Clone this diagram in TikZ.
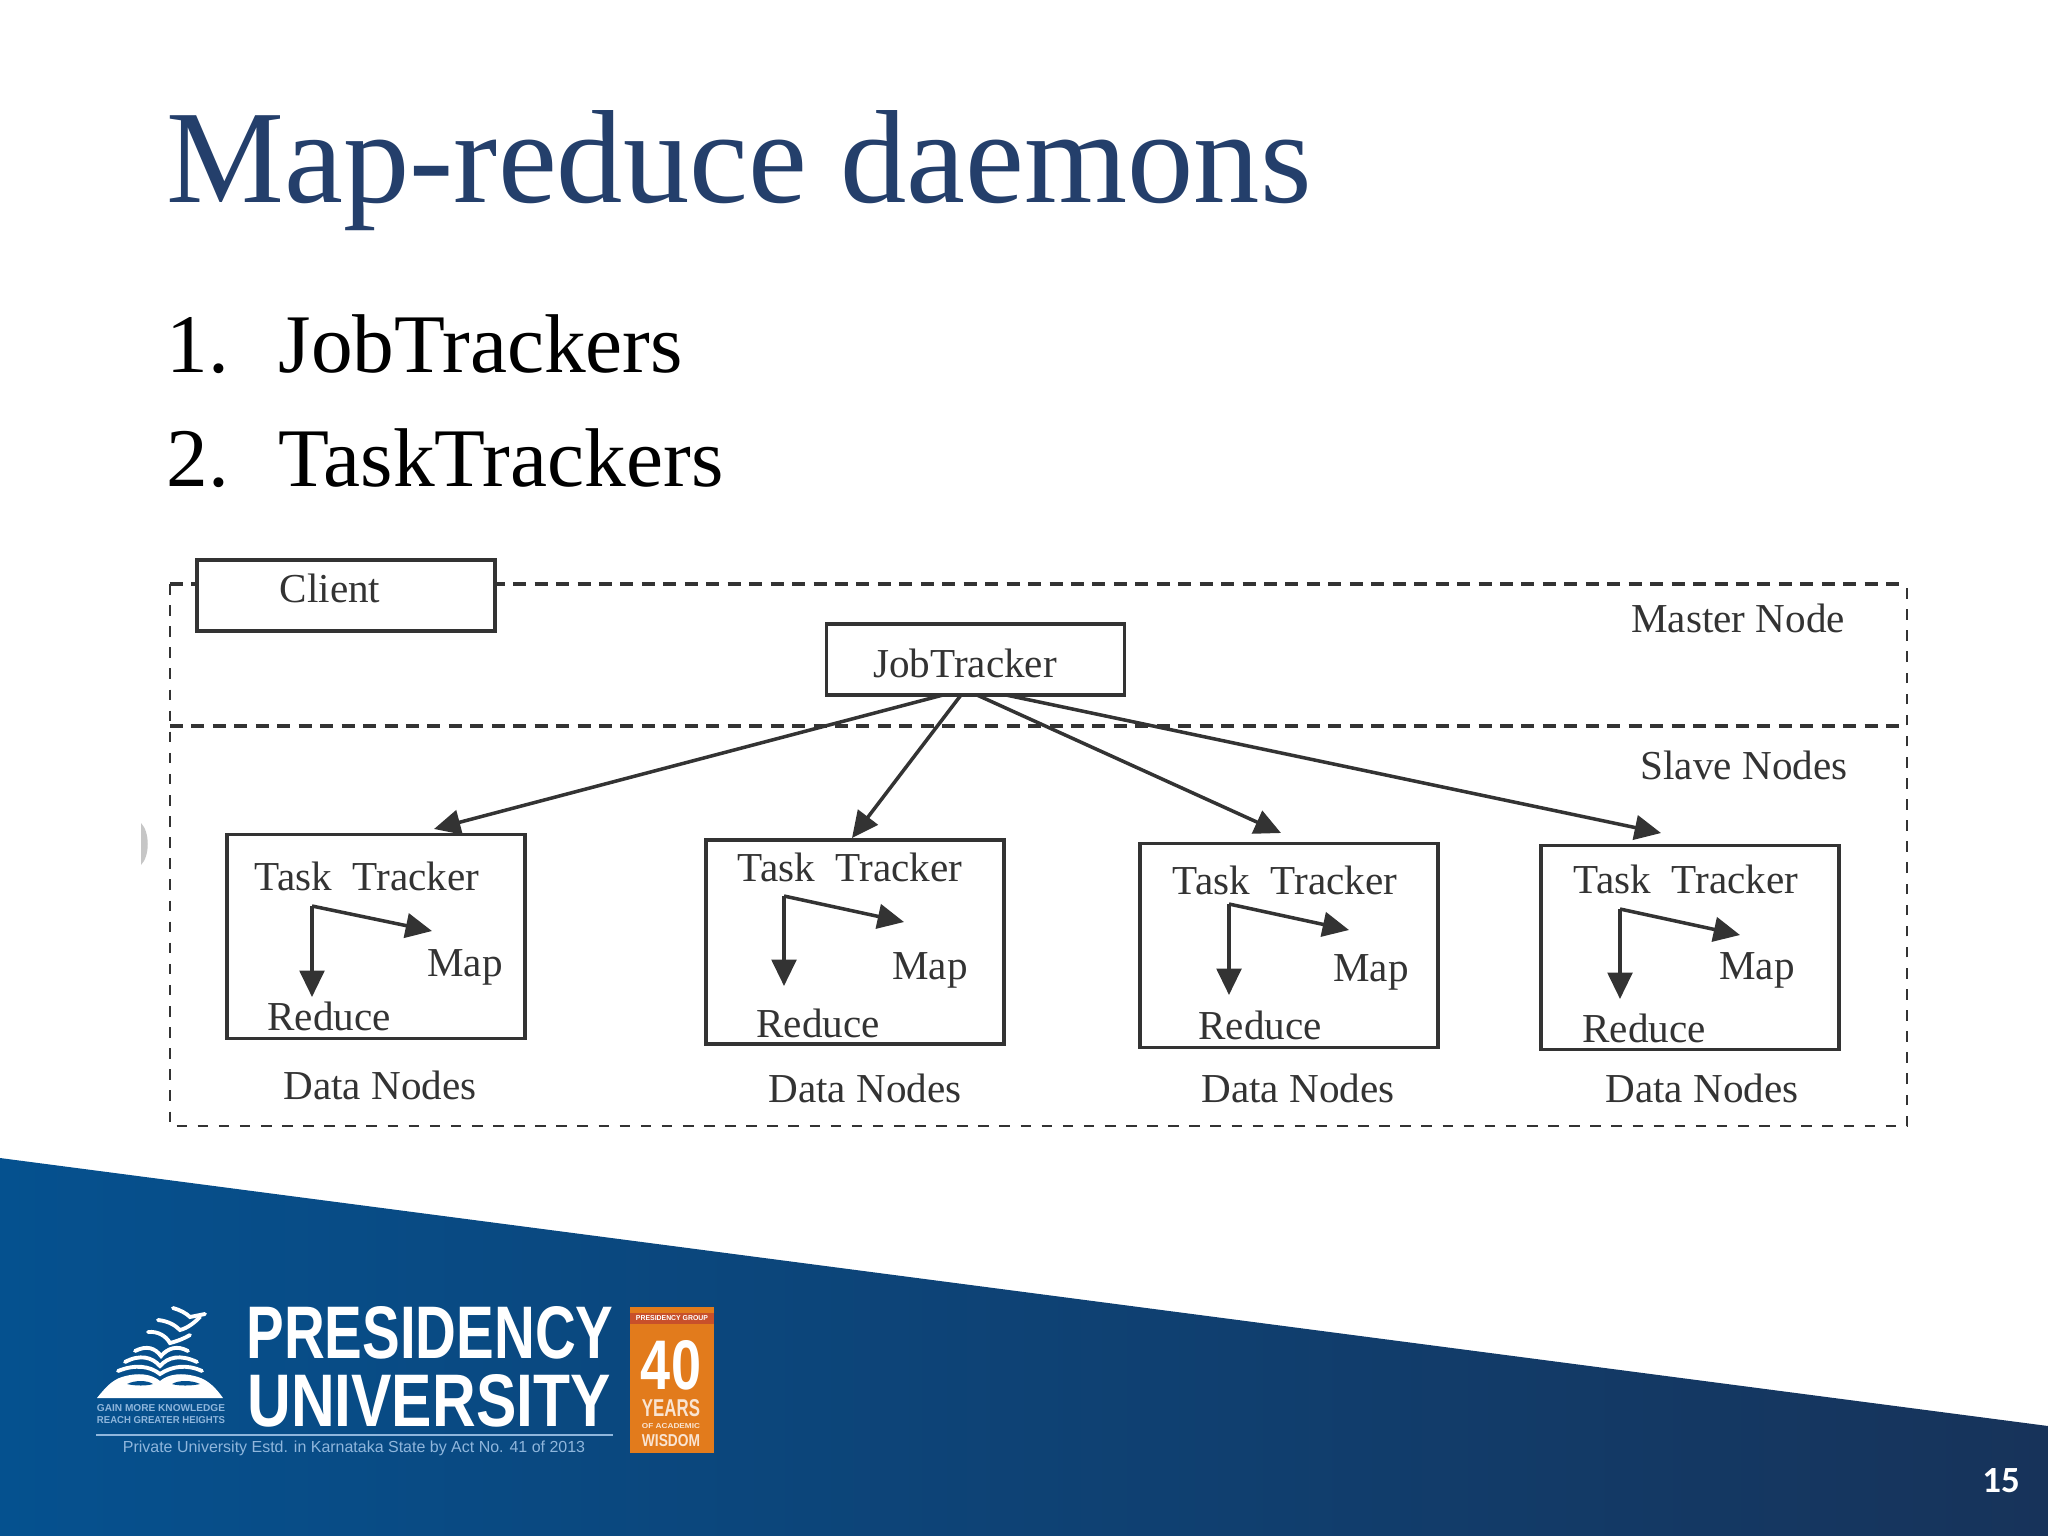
\documentclass[tikz,border=0pt]{standalone}
\usepackage{xcolor}
\usepackage{fontspec}
\usepackage{tikz}
\usetikzlibrary{arrows.meta}
\setmainfont{Liberation Serif}
\newfontfamily\logofont{Liberation Sans}
\newfontfamily\pagefont{Carlito}
\definecolor{TitleBlue}{HTML}{243F6B}
\definecolor{BandLeft}{HTML}{05518F}
\definecolor{BandRight}{HTML}{17335A}
\definecolor{LogoLine}{HTML}{8FB6DC}
\definecolor{LogoOrange}{HTML}{E27B1C}
\definecolor{TagRed}{HTML}{C8502A}
\definecolor{ScanInk}{HTML}{333333}
\tikzset{
    scanbox/.style={draw=ScanInk, line width=1pt, fill=white, minimum width=2.98cm, inner sep=0pt},
    scantext/.style={text=ScanInk, font=\fontsize{11.7}{14}\selectfont, inner sep=0pt},
    linkarrow/.style={-{Triangle[length=7.5pt, width=7pt]}, draw=ScanInk, line width=1pt},
    framethick/.style={draw=ScanInk, line width=1pt, dash pattern=on 3.7pt off 2.4pt},
    listtext/.style={anchor=base west, inner sep=0pt, font=\fontsize{23.7}{28}\selectfont},
    wingline/.style={draw=white, line width=1.1pt, line cap=round}
}
\begin{document}
\begin{tikzpicture}[x=0.01cm, y=-0.01cm]
        \useasboundingbox (0,0) rectangle (2048,1536);
        \fill [white] (0,0) rectangle (2048,1536);
        % heading and list
        \node (Title) at (166,202) [anchor=base west, inner sep=0pt, text=TitleBlue, font=\fontsize{37.7}{44}\selectfont] {Map-reduce daemons};
        \node (NumOne) at (166,372) [listtext] {1.};
        \node (ItemOne) at (278,372) [listtext] {JobTrackers};
        \node (NumTwo) at (166,486) [listtext] {2.};
        \node (ItemTwo) at (278,486) [listtext] {TaskTrackers};
        % sliver at the left of the scan
        \fill [gray!45] (141,823) .. controls (150,832) and (150,856) .. (141,865) -- cycle;
        % outer frame
        \coordinate (TopLeft) at (170,584);
        \coordinate (TopRight) at (1907,584);
        \coordinate (MidLeft) at (170,726);
        \coordinate (MidRight) at (1907,726);
        \coordinate (BottomLeft) at (170,1126);
        \coordinate (BottomRight) at (1907,1126);
        \draw [dashed, draw=ScanInk, line width=0.5pt] (TopLeft) -- (BottomLeft) -- (BottomRight) -- (TopRight);
        \draw [framethick] (TopLeft) -- (TopRight);
        \draw [framethick] (MidLeft) -- (MidRight);
        \node (MasterLabel) at (1738,618) [scantext] {Master Node};
        \node (SlaveLabel) at (1744,765) [scantext] {Slave Nodes};
        % master side
        \node (Client) at (346,595.5) [scanbox, minimum height=0.71cm] {};
        \node (ClientText) at (330,588) [scantext] {Client};
        \node (Job) at (975.5,659.5) [scanbox, minimum height=0.71cm] {};
        \node (JobText) at (965,663.5) [scantext] {JobTracker};
        % slave boxes
        \node (BoxA) at (376,936.5) [scanbox, minimum height=2.04cm] {};
        \node (BoxB) at (855,942) [scanbox, minimum height=2.04cm] {};
        \node (BoxC) at (1289,945.5) [scanbox, minimum height=2.04cm] {};
        \node (BoxD) at (1690,947.5) [scanbox, minimum height=2.04cm] {};
        \node (TrackerA) at (367,876) [scantext] {Task\ \ Tracker};
        \node (TrackerB) at (850,867) [scantext] {Task\ \ Tracker};
        \node (TrackerC) at (1285,880) [scantext] {Task\ \ Tracker};
        \node (TrackerD) at (1686,879) [scantext] {Task\ \ Tracker};
        \node (MapA) at (465,967) [scantext] {Map};
        \node (MapB) at (930,970) [scantext] {Map};
        \node (MapC) at (1371,972) [scantext] {Map};
        \node (MapD) at (1757,970) [scantext] {Map};
        \node (ReduceA) at (329,1016) [scantext] {Reduce};
        \node (ReduceB) at (818,1023) [scantext] {Reduce};
        \node (ReduceC) at (1260,1025) [scantext] {Reduce};
        \node (ReduceD) at (1644,1028) [scantext] {Reduce};
        \node (DataA) at (380,1085) [scantext] {Data Nodes};
        \node (DataB) at (865,1088) [scantext] {Data Nodes};
        \node (DataC) at (1298,1088) [scantext] {Data Nodes};
        \node (DataD) at (1702,1088) [scantext] {Data Nodes};
        % arrows out of the job tracker
        \coordinate (JobOutA) at (943,695);
        \coordinate (JobOutB) at (961,695);
        \coordinate (JobOutC) at (977,695);
        \coordinate (JobOutD) at (1006,695);
        \coordinate (InA) at (434,829);
        \coordinate (InB) at (852,838);
        \coordinate (InC) at (1281,833);
        \coordinate (InD) at (1661,833);
        \draw [linkarrow] (JobOutA) -- (InA);
        \draw [linkarrow] (JobOutB) -- (InB);
        \draw [linkarrow] (JobOutC) -- (InC);
        \draw [linkarrow] (JobOutD) -- (InD);
        % arrows inside the boxes
        \coordinate (CornerA) at (312,906);
        \coordinate (CornerB) at (784,896);
        \coordinate (CornerC) at (1229,904);
        \coordinate (CornerD) at (1620,909);
        \coordinate (DownA) at (312,997);
        \coordinate (DownB) at (784,986);
        \coordinate (DownC) at (1229,995);
        \coordinate (DownD) at (1620,999);
        \coordinate (SideA) at (432,931);
        \coordinate (SideB) at (904,922);
        \coordinate (SideC) at (1349,930);
        \coordinate (SideD) at (1740,935);
        \draw [linkarrow] (CornerA) -- (DownA);
        \draw [linkarrow] (CornerA) -- (SideA);
        \draw [linkarrow] (CornerB) -- (DownB);
        \draw [linkarrow] (CornerB) -- (SideB);
        \draw [linkarrow] (CornerC) -- (DownC);
        \draw [linkarrow] (CornerC) -- (SideC);
        \draw [linkarrow] (CornerD) -- (DownD);
        \draw [linkarrow] (CornerD) -- (SideD);
        % footer band
        \shade [left color=BandLeft, right color=BandRight] (0,1158) -- (2048,1426) -- (2048,1536) -- (0,1536) -- cycle;
        \node (PageNum) at (2001,1481) [text=white, inner sep=0pt, font=\pagefont\bfseries\fontsize{10.5}{12}\selectfont] {15};
        % book and birds
        \fill [white] (97,1398) .. controls (105,1388) and (112,1380) .. (122,1377) .. controls (138,1372) and (152,1374) .. (160,1381) .. controls (168,1374) and (182,1372) .. (198,1377) .. controls (208,1380) and (216,1388) .. (223,1398) -- cycle;
        \fill [BandLeft] (127,1384) .. controls (135,1380) and (147,1380) .. (153,1384) .. controls (147,1386) and (135,1386) .. cycle;
        \fill [BandLeft] (172,1384) .. controls (178,1380) and (192,1380) .. (200,1384) .. controls (192,1386) and (178,1386) .. cycle;
        \draw [wingline] (118,1371) .. controls (135,1364) and (150,1366) .. (160,1374) .. controls (172,1366) and (187,1364) .. (202,1371);
        \draw [wingline] (125,1362) .. controls (140,1354) and (152,1357) .. (160,1366) .. controls (168,1357) and (180,1354) .. (197,1362);
        \draw [wingline] (135,1351) .. controls (147,1345) and (155,1348) .. (161,1356) .. controls (168,1348) and (177,1345) .. (188,1351);
        \draw [wingline] (148,1332) .. controls (158,1331) and (166,1336) .. (170,1343) .. controls (178,1341) and (185,1338) .. (190,1335);
        \draw [wingline] (158,1320) .. controls (168,1321) and (175,1325) .. (180,1330) .. controls (188,1328) and (195,1322) .. (200,1317);
        \draw [wingline] (173,1308) .. controls (180,1310) and (186,1313) .. (190,1317) .. controls (195,1316) and (200,1315) .. (205,1314);
        \node (GainText) at (161,1408) [text=LogoLine, inner sep=0pt] {\resizebox{1.28cm}{0.07cm}{\logofont\bfseries GAIN MORE KNOWLEDGE}};
        \node (ReachText) at (161,1420) [text=LogoLine, inner sep=0pt] {\resizebox{1.28cm}{0.07cm}{\logofont\bfseries REACH GREATER HEIGHTS}};
        % university name
        \node (Presidency) at (430,1333) [text=white, inner sep=0pt] {\resizebox{3.67cm}{0.52cm}{\logofont\bfseries PRESIDENCY}};
        \node (University) at (429,1401) [text=white, inner sep=0pt] {\resizebox{3.63cm}{0.52cm}{\logofont\bfseries UNIVERSITY}};
        \coordinate (RuleLeft) at (96,1435);
        \coordinate (RuleRight) at (613,1435);
        \draw [LogoLine, line width=0.6pt] (RuleLeft) -- (RuleRight);
        \node (EstdText) at (354,1448) [text=LogoLine, inner sep=0pt] {\resizebox{4.62cm}{!}{\logofont Private University Estd. in Karnataka State by Act No. 41 of 2013}};
        % anniversary tag
        \node (Tag) at (672,1380) [fill=LogoOrange, minimum width=0.84cm, minimum height=1.46cm, inner sep=0pt] {};
        \node (TagBand) at (672,1318) [fill=TagRed, minimum width=0.84cm, minimum height=0.11cm, inner sep=0pt] {};
        \node (TagHead) at (672,1318) [text=white, inner sep=0pt] {\resizebox{0.72cm}{0.05cm}{\logofont\bfseries PRESIDENCY GROUP}};
        \node (TagForty) at (671,1365) [text=white, inner sep=0pt] {\resizebox{0.6cm}{0.49cm}{\logofont\bfseries 40}};
        \node (TagYears) at (671,1408) [text=white!80!LogoOrange, inner sep=0pt] {\resizebox{0.58cm}{0.17cm}{\logofont\bfseries YEARS}};
        \node (TagOf) at (671,1426) [text=white!80!LogoOrange, inner sep=0pt] {\resizebox{0.58cm}{0.05cm}{\logofont\bfseries OF ACADEMIC}};
        \node (TagWisdom) at (671,1441) [text=white!80!LogoOrange, inner sep=0pt] {\resizebox{0.58cm}{0.12cm}{\logofont\bfseries WISDOM}};
    \end{tikzpicture}
\end{document}
